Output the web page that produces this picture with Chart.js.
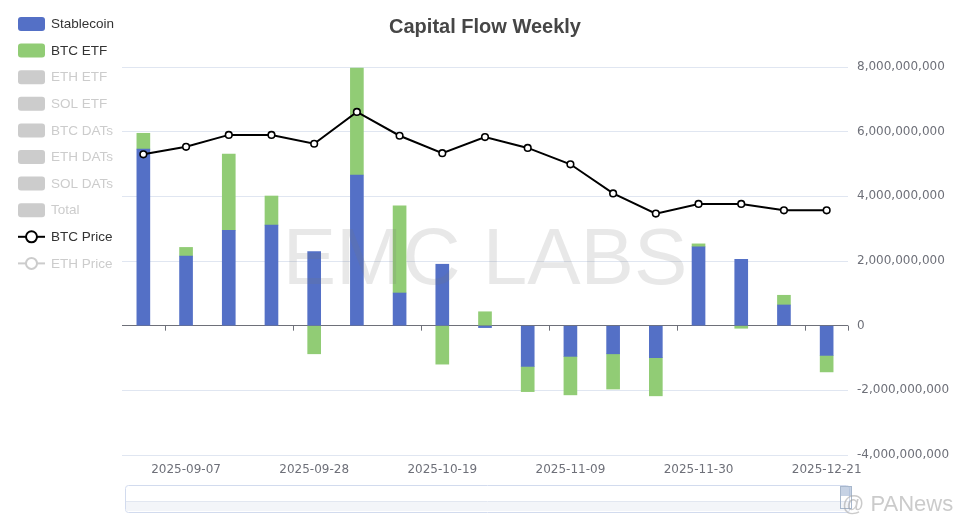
<!DOCTYPE html>
<html>
<head>
<meta charset="utf-8">
<script src="https://cdn.jsdelivr.net/npm/chart.js@4.4.1/dist/chart.umd.min.js"></script>
<style>
  html, body { margin: 0; padding: 0; background: #ffffff; }
  #wrap { width: 964px; height: 530px; position: relative; }
</style>
</head>
<body>
<div id="wrap"><canvas id="c" width="964" height="530"></canvas></div>
<script>
const categories = ['2025-08-31','2025-09-07','2025-09-14','2025-09-21','2025-09-28','2025-10-05','2025-10-12','2025-10-19','2025-10-26','2025-11-02','2025-11-09','2025-11-16','2025-11-23','2025-11-30','2025-12-07','2025-12-14','2025-12-21'];
const stablecoin = [5460000000, 2150000000, 2950000000, 3110000000, 2290000000, 4660000000, 1010000000, 1900000000, -60000000, -1260000000, -950000000, -870000000, -990000000, 2440000000, 2050000000, 640000000, -920000000];
const btcEtf = [490000000, 270000000, 2360000000, 900000000, -870000000, 3310000000, 2700000000, -1190000000, 430000000, -780000000, -1190000000, -1090000000, -1180000000, 90000000, -80000000, 300000000, -510000000];
const btcPrice = [108500, 111200, 115500, 115500, 112300, 123800, 115200, 108900, 114700, 110800, 104900, 94400, 87100, 90600, 90600, 88300, 88300];
const flowTicks = [-4000000000, -2000000000, 0, 2000000000, 4000000000, 6000000000, 8000000000];
const legendItems = [
  {label: 'Stablecoin', kind: 'box', color: '#5470c6', active: true},
  {label: 'BTC ETF', kind: 'box', color: '#91cc75', active: true},
  {label: 'ETH ETF', kind: 'box', color: '#ccc', active: false},
  {label: 'SOL ETF', kind: 'box', color: '#ccc', active: false},
  {label: 'BTC DATs', kind: 'box', color: '#ccc', active: false},
  {label: 'ETH DATs', kind: 'box', color: '#ccc', active: false},
  {label: 'SOL DATs', kind: 'box', color: '#ccc', active: false},
  {label: 'Total', kind: 'box', color: '#ccc', active: false},
  {label: 'BTC Price', kind: 'line', color: '#000', active: true},
  {label: 'ETH Price', kind: 'line', color: '#ccc', active: false}
];
const chartTitle = 'Capital Flow Weekly';

const FONT = "'Liberation Sans', Arial, Helvetica, sans-serif";
const AXFONT = "'DejaVu Sans', sans-serif";

const decor = {
  id: 'decor',
  afterDatasetsDraw(chart) {
    const ctx = chart.ctx;
    const ca = chart.chartArea;
    const y = chart.scales.y;
    const y0 = y.getPixelForValue(0);
    ctx.save();
    ctx.strokeStyle = '#6E7079';
    ctx.lineWidth = 1;
    const n = categories.length;
    const w = (ca.right - ca.left) / n;
    for (let k = 1; k <= n; k++) {
      if (k % 3 === 1 || k === n) {
        const px = Math.round(ca.left + k * w) + 0.5;
        ctx.beginPath();
        ctx.moveTo(px, y0);
        ctx.lineTo(px, y0 + 5);
        ctx.stroke();
      }
    }
    ctx.font = '80px ' + FONT;
    ctx.fillStyle = 'rgba(120,120,120,0.17)';
    ctx.textAlign = 'center';
    ctx.textBaseline = 'middle';
    ctx.fillText('EMC LABS', 485, 262);
    ctx.restore();
  },
  afterDraw(chart) {
    const ctx = chart.ctx;
    ctx.save();
    // title
    ctx.font = 'bold 20px ' + FONT;
    ctx.fillStyle = '#464646';
    ctx.textAlign = 'center';
    ctx.textBaseline = 'middle';
    ctx.fillText(chartTitle, 485, 27);
    // legend
    ctx.textAlign = 'left';
    ctx.font = '13.5px ' + FONT;
    legendItems.forEach((it, i) => {
      const cy = 24 + i * 26.6;
      if (it.kind === 'box') {
        ctx.fillStyle = it.color;
        ctx.beginPath();
        ctx.roundRect(18, cy - 7, 27, 14, 3);
        ctx.fill();
      } else {
        ctx.strokeStyle = it.color;
        ctx.lineWidth = 2;
        ctx.beginPath();
        ctx.moveTo(18, cy);
        ctx.lineTo(45, cy);
        ctx.stroke();
        ctx.fillStyle = '#fff';
        ctx.beginPath();
        ctx.arc(31.5, cy, 5.5, 0, Math.PI * 2);
        ctx.fill();
        ctx.stroke();
      }
      ctx.fillStyle = it.active ? '#333' : '#ccc';
      ctx.fillText(it.label, 51, cy + 0.5);
    });
    // data zoom slider frame
    ctx.strokeStyle = '#d2dbee';
    ctx.lineWidth = 1;
    ctx.beginPath();
    ctx.roundRect(125.5, 485.5, 724, 27, 3);
    ctx.stroke();
    ctx.fillStyle = '#f3f5f9';
    ctx.fillRect(126, 502, 723, 9);
    ctx.strokeStyle = '#e2e7f1';
    ctx.beginPath();
    ctx.moveTo(126, 501.5);
    ctx.lineTo(849, 501.5);
    ctx.stroke();
    ctx.fillStyle = 'rgba(160,180,210,0.6)';
    ctx.fillRect(840, 486, 12, 10);
    ctx.strokeStyle = '#a7b7cc';
    ctx.strokeRect(840.5, 486.5, 11, 22);
    ctx.font = '22px ' + FONT;
    ctx.fillStyle = 'rgba(160,160,160,0.55)';
    ctx.textAlign = 'left';
    ctx.fillText('@ PANews', 842, 505);
    ctx.restore();
  }
};

new Chart(document.getElementById('c'), {
  data: {
    labels: categories,
    datasets: [
      {
        type: 'line',
        label: 'BTC Price',
        data: btcPrice,
        yAxisID: 'y1',
        borderColor: '#000',
        borderWidth: 2,
        pointRadius: 3.3,
        pointBorderWidth: 1.6,
        pointBackgroundColor: '#fff',
        pointBorderColor: '#000',
        tension: 0,
        order: 0
      },
      {
        type: 'bar',
        label: 'Stablecoin',
        data: stablecoin,
        yAxisID: 'y',
        backgroundColor: '#5470c6',
        stack: 'flow',
        barThickness: 13,
        order: 1
      },
      {
        type: 'bar',
        label: 'BTC ETF',
        data: btcEtf,
        yAxisID: 'y',
        backgroundColor: '#91cc75',
        stack: 'flow',
        barThickness: 13,
        order: 1
      }
    ]
  },
  options: {
    responsive: false,
    animation: false,
    devicePixelRatio: 1,
    layout: { padding: { left: 122, right: 0, top: 67, bottom: 45 } },
    plugins: {
      legend: { display: false },
      tooltip: { enabled: false },
      title: { display: false }
    },
    scales: {
      x: {
        stacked: true,
        grid: { display: false, drawTicks: false },
        border: { display: false },
        ticks: {
          autoSkip: false,
          maxRotation: 0,
          padding: 8,
          color: '#6E7079',
          font: { family: AXFONT, size: 12 },
          callback: function(v, i) { return i % 3 === 1 ? categories[i] : ''; }
        },
        afterFit: function(s) { s.height = 30; }
      },
      y: {
        position: 'right',
        stacked: true,
        min: flowTicks[0],
        max: flowTicks[flowTicks.length - 1],
        afterBuildTicks: function(s) { s.ticks = flowTicks.map(v => ({ value: v })); },
        grid: {
          drawTicks: false,
          color: function(c) { return c.tick && c.tick.value === 0 ? '#6E7079' : '#E0E6F1'; },
          lineWidth: 1
        },
        border: { display: false },
        ticks: {
          padding: 9,
          color: '#6E7079',
          font: { family: AXFONT, size: 12 },
          callback: function(v) { return Number(v).toLocaleString('en-US'); }
        },
        afterFit: function(s) { s.width = 116; }
      },
      y1: {
        display: false,
        min: 0,
        max: 140000
      }
    }
  },
  plugins: [decor]
});
</script>
</body>
</html>
